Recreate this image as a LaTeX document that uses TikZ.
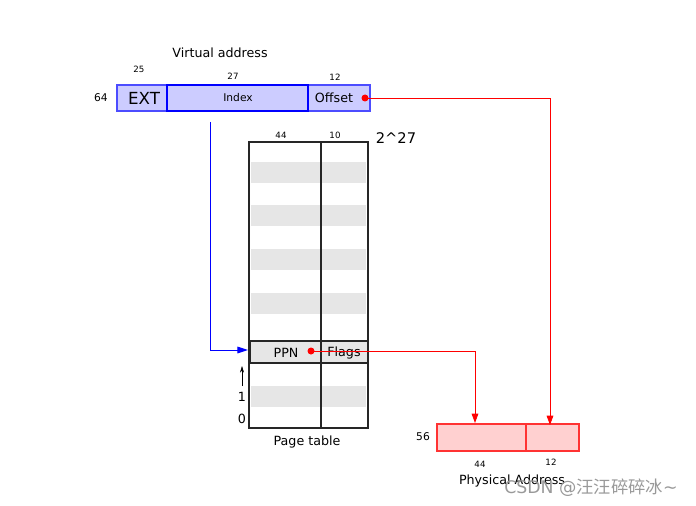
\documentclass[tikz,border=0pt]{standalone}
\usepackage{fontspec}
\setmainfont{DejaVu Sans}
\newfontfamily\cjk{Noto Sans CJK SC}
\usetikzlibrary{arrows.meta}
\definecolor{vblue}{HTML}{CCCCFF}
\definecolor{ppink}{HTML}{FFD0D0}
\definecolor{stripe}{HTML}{E6E6E6}
\begin{document}
\begin{tikzpicture}[x=0.75pt,y=-0.75pt,
  lab/.style={font=\fontsize{9.5}{10}\selectfont},
  tiny/.style={font=\fontsize{6.5}{7}\selectfont},
  vbox/.style={draw=blue!70,fill=vblue,line width=0.8pt},
  pbox/.style={draw=red!80,fill=ppink,line width=0.8pt},
  rl/.style={red,line width=0.6pt,-{Triangle[length=7pt,width=5pt]}}]
\useasboundingbox (0,0) rectangle (696,506);
% virtual address
\node[lab] (va) at (220,53) {Virtual address};
\draw[vbox] (117,85) rectangle (370,111);
\draw[draw=blue,fill=vblue,line width=1.2pt] (167,85) rectangle (308,111);
\node[font=\fontsize{12.5}{13}\selectfont] (ext) at (144,98) {EXT};
\node[font=\fontsize{8}{9}\selectfont] (idx) at (238,98) {Index};
\node[lab] (off) at (334,98) {Offset};
\node[font=\fontsize{8}{9}\selectfont] (n64) at (101,98) {64};
\node[tiny] (n25) at (139,69) {25};
\node[tiny] (n27) at (233,76) {27};
\node[tiny] (n12) at (335,77) {12};
% page table
\foreach \y in {162,205,249,293,386} \fill[stripe] (251,\y) rectangle (366,\y+21);
\draw[black!85,line width=1pt] (249,142) rectangle (368,428);
\draw[black!85,line width=1pt] (321,142) -- (321,428);
\draw[fill=stripe,draw=black!85,line width=0.8pt] (250,341) rectangle (368,363);
\draw[black!85,line width=1pt] (321,341) -- (321,363);
\node[lab] (ppn) at (286,353) {PPN};
\node[lab] (flg) at (344,353) {Flags};
\node[tiny] (n44) at (281,135) {44};
\node[tiny] (n10) at (335,135) {10};
\node[font=\fontsize{11}{12}\selectfont] (pow) at (396,138) {2\textasciicircum 27};
\coordinate (aS) at (242,386);
\coordinate (aE) at (242,366);
\draw[-{Stealth[length=5pt,width=3pt]}] (aS) -- (aE);
\node[lab] (one) at (242,397) {1};
\node[lab] (zero) at (242,419) {0};
\node[lab] (pt) at (307,442) {Page table};
% blue connector
\coordinate (b0) at (210,122);
\coordinate (b1) at (248,350);
\draw[blue,line width=0.7pt,-{Triangle[length=8pt,width=5pt]}] (b0) |- (b1);
% physical
\draw[pbox] (437,424) rectangle (579,451);
\draw[red!80,line width=0.8pt] (526,424) -- (526,451);
\node[font=\fontsize{8}{9}\selectfont] (n56) at (423,437) {56};
\node[tiny] (p44) at (480,464) {44};
\node[tiny] (p12) at (551,462) {12};
\node[lab] (pa) at (512,481) {Physical Address};
% red connectors
\coordinate (d1) at (365,98);
\coordinate (t1) at (550,425);
\fill[red] (d1) circle (3.5);
\draw[rl] (d1) -| (t1);
\coordinate (d2) at (311,351);
\coordinate (t2) at (475,423);
\fill[red] (d2) circle (3.5);
\draw[rl] (d2) -| (t2);
\node[text=black!40,font=\fontsize{13}{14}\selectfont] (wm) at (591,488) {CSDN @{\cjk 汪汪碎碎冰}\textasciitilde};
\end{tikzpicture}
\end{document}
